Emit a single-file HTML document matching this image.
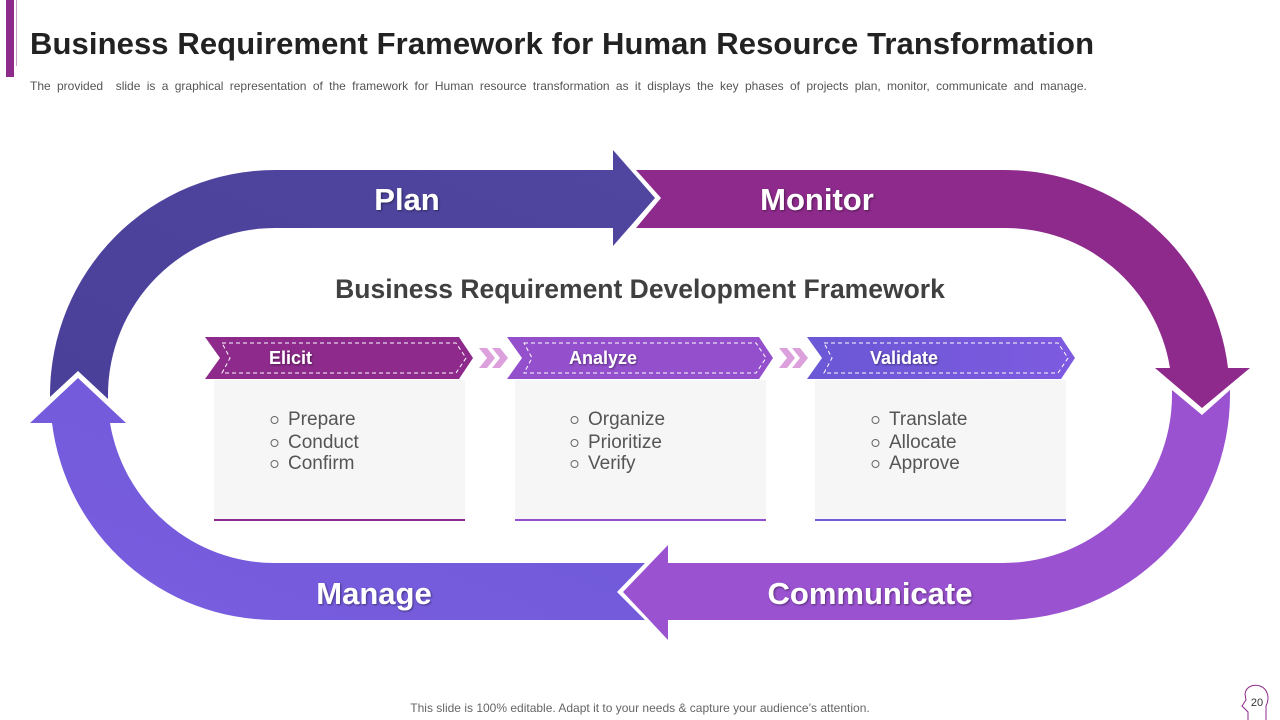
<!DOCTYPE html>
<html><head><meta charset="utf-8"><style>
body{margin:0;width:1280px;height:720px;overflow:hidden;background:#fff;font-family:"Liberation Sans",sans-serif;position:relative}
.t{position:absolute;left:30px;top:26px;font-size:31px;font-weight:bold;color:#222;letter-spacing:0.1px}
.s{position:absolute;left:30px;top:79px;font-size:12px;color:#555;word-spacing:3px}
.f{position:absolute;left:0;width:1280px;top:701px;text-align:center;font-size:12px;color:#666}
</style></head><body>
<div style="position:absolute;left:6px;top:0;width:8px;height:77px;background:#8e2a8c"></div>
<div style="position:absolute;left:16px;top:0;width:1px;height:66px;background:#c9a0c8"></div>
<div class="t">Business Requirement Framework for Human Resource Transformation</div>
<div class="s">The provided &nbsp;slide is a graphical representation of the framework for Human resource transformation as it displays the key phases of projects plan, monitor, communicate and manage.</div>
<svg width="1280" height="720" style="position:absolute;left:0;top:0">
<defs>
<linearGradient id="gp" x1="0" y1="1" x2="1" y2="0"><stop offset="0" stop-color="#4a409a"/><stop offset="1" stop-color="#5046a0"/></linearGradient>
<linearGradient id="gm" x1="0" y1="1" x2="1" y2="0"><stop offset="0" stop-color="#7a5ee0"/><stop offset="1" stop-color="#6c58d6"/></linearGradient>
<linearGradient id="gv" x1="0" x2="1"><stop offset="0" stop-color="#6a58d6"/><stop offset="1" stop-color="#7e5ae0"/></linearGradient>
<filter id="sh"><feDropShadow dx="1" dy="1" stdDeviation="1" flood-color="#000" flood-opacity="0.45"/></filter>
</defs>
<path d="M50,397 L50,395 A225,225 0 0 1 275,170 L613,170 L613,150 L655,198 L613,246 L613,228 L275,228 A167,167 0 0 0 108,395 L108,399 L78,371 Z" fill="url(#gp)"/>
<path d="M636,170 L1003,170 A225,225 0 0 1 1228,368 L1250,368 L1202,408 L1155,368 L1170,368 A167,167 0 0 0 1003,228 L636,228 L661,198 Z" fill="#8e2a8c"/>
<path d="M1172,390 L1202,415 L1230,390 L1230,395 A227,225 0 0 1 1003,620 L668,620 L668,640 L623,592 L668,545 L668,563 L1003,563 A169,168 0 0 0 1172,395 Z" fill="#9a52d0"/>
<path d="M645,563 L617,592 L645,620 L275,620 A225,225 0 0 1 52,423 L30,423 L78,378 L126,423 L110,423 A167,168 0 0 0 275,563 Z" fill="url(#gm)"/>
<g font-family="Liberation Sans" font-weight="bold" font-size="31" fill="#fff" text-anchor="middle" filter="url(#sh)">
<text x="407" y="210">Plan</text><text x="817" y="210">Monitor</text>
<text x="374" y="604">Manage</text><text x="870" y="604">Communicate</text>
</g>
<text x="640" y="298" text-anchor="middle" font-size="26.5" font-weight="bold" fill="#404040">Business Requirement Development Framework</text>
<rect x="214" y="380" width="251" height="141" fill="#f6f6f6"/><rect x="214" y="519" width="251" height="2" fill="#8e2a8c"/>
<rect x="515" y="380" width="251" height="141" fill="#f6f6f6"/><rect x="515" y="519" width="251" height="2" fill="#9450cc"/>
<rect x="815" y="380" width="251" height="141" fill="#f6f6f6"/><rect x="815" y="519" width="251" height="2" fill="#6f5bd8"/>
<path d="M205,337 L459,337 L473,358 L459,379 L205,379 L220,358 Z" fill="#8e2a8c"/>
<path d="M222,343 L456,343 L466,358 L456,373 L222,373 L230,358 Z" fill="none" stroke="#fff" stroke-dasharray="4,3" stroke-width="1"/>
<path d="M507,337 L759,337 L773,358 L759,379 L507,379 L522,358 Z" fill="#9450cc"/>
<path d="M524,343 L756,343 L766,358 L756,373 L524,373 L532,358 Z" fill="none" stroke="#fff" stroke-dasharray="4,3" stroke-width="1"/>
<path d="M807,337 L1061,337 L1075,358 L1061,379 L807,379 L822,358 Z" fill="url(#gv)"/>
<path d="M824,343 L1058,343 L1068,358 L1058,373 L824,373 L832,358 Z" fill="none" stroke="#fff" stroke-dasharray="4,3" stroke-width="1"/>
<g fill="#dca0dc">
<path d="M479,348 L487,348 L495,358 L487,368 L479,368 L487,358 Z"/><path d="M492,348 L500,348 L508,358 L500,368 L492,368 L500,358 Z"/>
<path d="M779,348 L787,348 L795,358 L787,368 L779,368 L787,358 Z"/><path d="M792,348 L800,348 L808,358 L800,368 L792,368 L800,358 Z"/>
</g>
<g font-weight="bold" font-size="18" fill="#fff" filter="url(#sh)">
<text x="269" y="364">Elicit</text><text x="569" y="364">Analyze</text><text x="870" y="364">Validate</text>
</g>
<g fill="none" stroke="#666" stroke-width="1">
<circle cx="274.5" cy="420" r="3.5"/><circle cx="274.5" cy="443" r="3.5"/><circle cx="274.5" cy="464" r="3.5"/>
<circle cx="574.5" cy="420" r="3.5"/><circle cx="574.5" cy="443" r="3.5"/><circle cx="574.5" cy="464" r="3.5"/>
<circle cx="875.5" cy="420" r="3.5"/><circle cx="875.5" cy="443" r="3.5"/><circle cx="875.5" cy="464" r="3.5"/>
</g>
<g font-size="19" fill="#555">
<text x="288" y="425">Prepare</text><text x="288" y="448">Conduct</text><text x="288" y="469">Confirm</text>
<text x="588" y="425">Organize</text><text x="588" y="448">Prioritize</text><text x="588" y="469">Verify</text>
<text x="889" y="425">Translate</text><text x="889" y="448">Allocate</text><text x="889" y="469">Approve</text>
</g>
<path d="M1248,720 L1248,712 L1242,706 L1246,700 L1245,694 C1246,686 1254,684 1260,686 C1268,689 1270,698 1266,706 L1266,720" fill="none" stroke="#8e2a8c" stroke-width="1"/>
<text x="1257" y="706" font-size="11" fill="#333" text-anchor="middle">20</text>
</svg>
<div class="f">This slide is 100% editable. Adapt it to your needs &amp; capture your audience’s attention.</div>
</body></html>
